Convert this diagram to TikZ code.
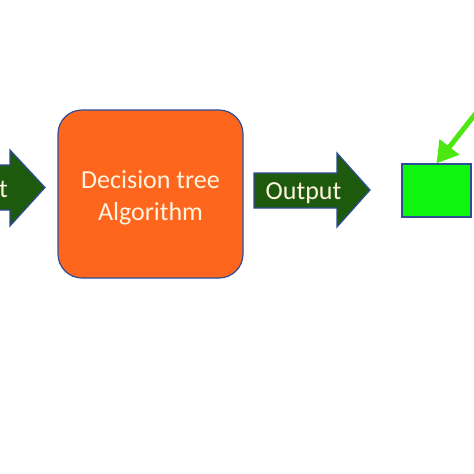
\documentclass[tikz,border=0pt]{standalone}
\usepackage{fontspec}
\setmainfont{Carlito}
\usetikzlibrary{arrows.meta}
\definecolor{arrowgreen}{HTML}{1E5A0E}
\definecolor{edgeblue}{HTML}{2F4C96}
\definecolor{boxorange}{HTML}{FE661E}
\definecolor{brightgreen}{HTML}{0EF50E}
\definecolor{pointergreen}{HTML}{4CE811}
\definecolor{lighttext}{HTML}{FFF4E0}
\tikzset{
  blockarrow/.style={fill=arrowgreen, draw=edgeblue, line width=1.2pt, line join=miter},
  label/.style={font=\fontsize{26}{32}\selectfont, text=lighttext, align=center, inner sep=0pt},
  algobox/.style={fill=boxorange, draw=edgeblue, line width=1.2pt, rounded corners=24pt, minimum width=185pt, minimum height=168pt, inner sep=0pt},
  resultbox/.style={fill=brightgreen, draw=edgeblue, line width=1.2pt, minimum width=69pt, minimum height=53pt, inner sep=0pt},
  pointer/.style={draw=pointergreen, line width=5pt, -{Triangle[length=21pt, width=24pt]}}
}
\begin{document}
\begin{tikzpicture}[x=1pt, y=-1pt]
\useasboundingbox (0,0) rectangle (474,474);
\clip (0,0) rectangle (474,474);
\fill[white] (0,0) rectangle (474,474);
% left (input) arrow
\draw[blockarrow] (-80,165) -- (10,165) -- (10,150) -- (45,187.5) -- (10,226) -- (10,210) -- (-80,210) -- cycle;
\node[label, anchor=base east] (input) at (8,197) {t};
% decision tree box
\node[algobox] (algo) at (150.5,194) {};
\node[label] (algotext) at (150.5,198) {Decision tree\\Algorithm};
% output arrow
\draw[blockarrow] (254,173) -- (337,173) -- (337,153) -- (370,190) -- (337,227) -- (337,208) -- (254,208) -- cycle;
\node[label, anchor=base] (output) at (303.5,199) {Output};
% green result box
\node[resultbox] (result) at (436.5,190.5) {};
\coordinate (pstart) at (480,108);
\draw[pointer] (pstart) -- (result.north);
\end{tikzpicture}
\end{document}
